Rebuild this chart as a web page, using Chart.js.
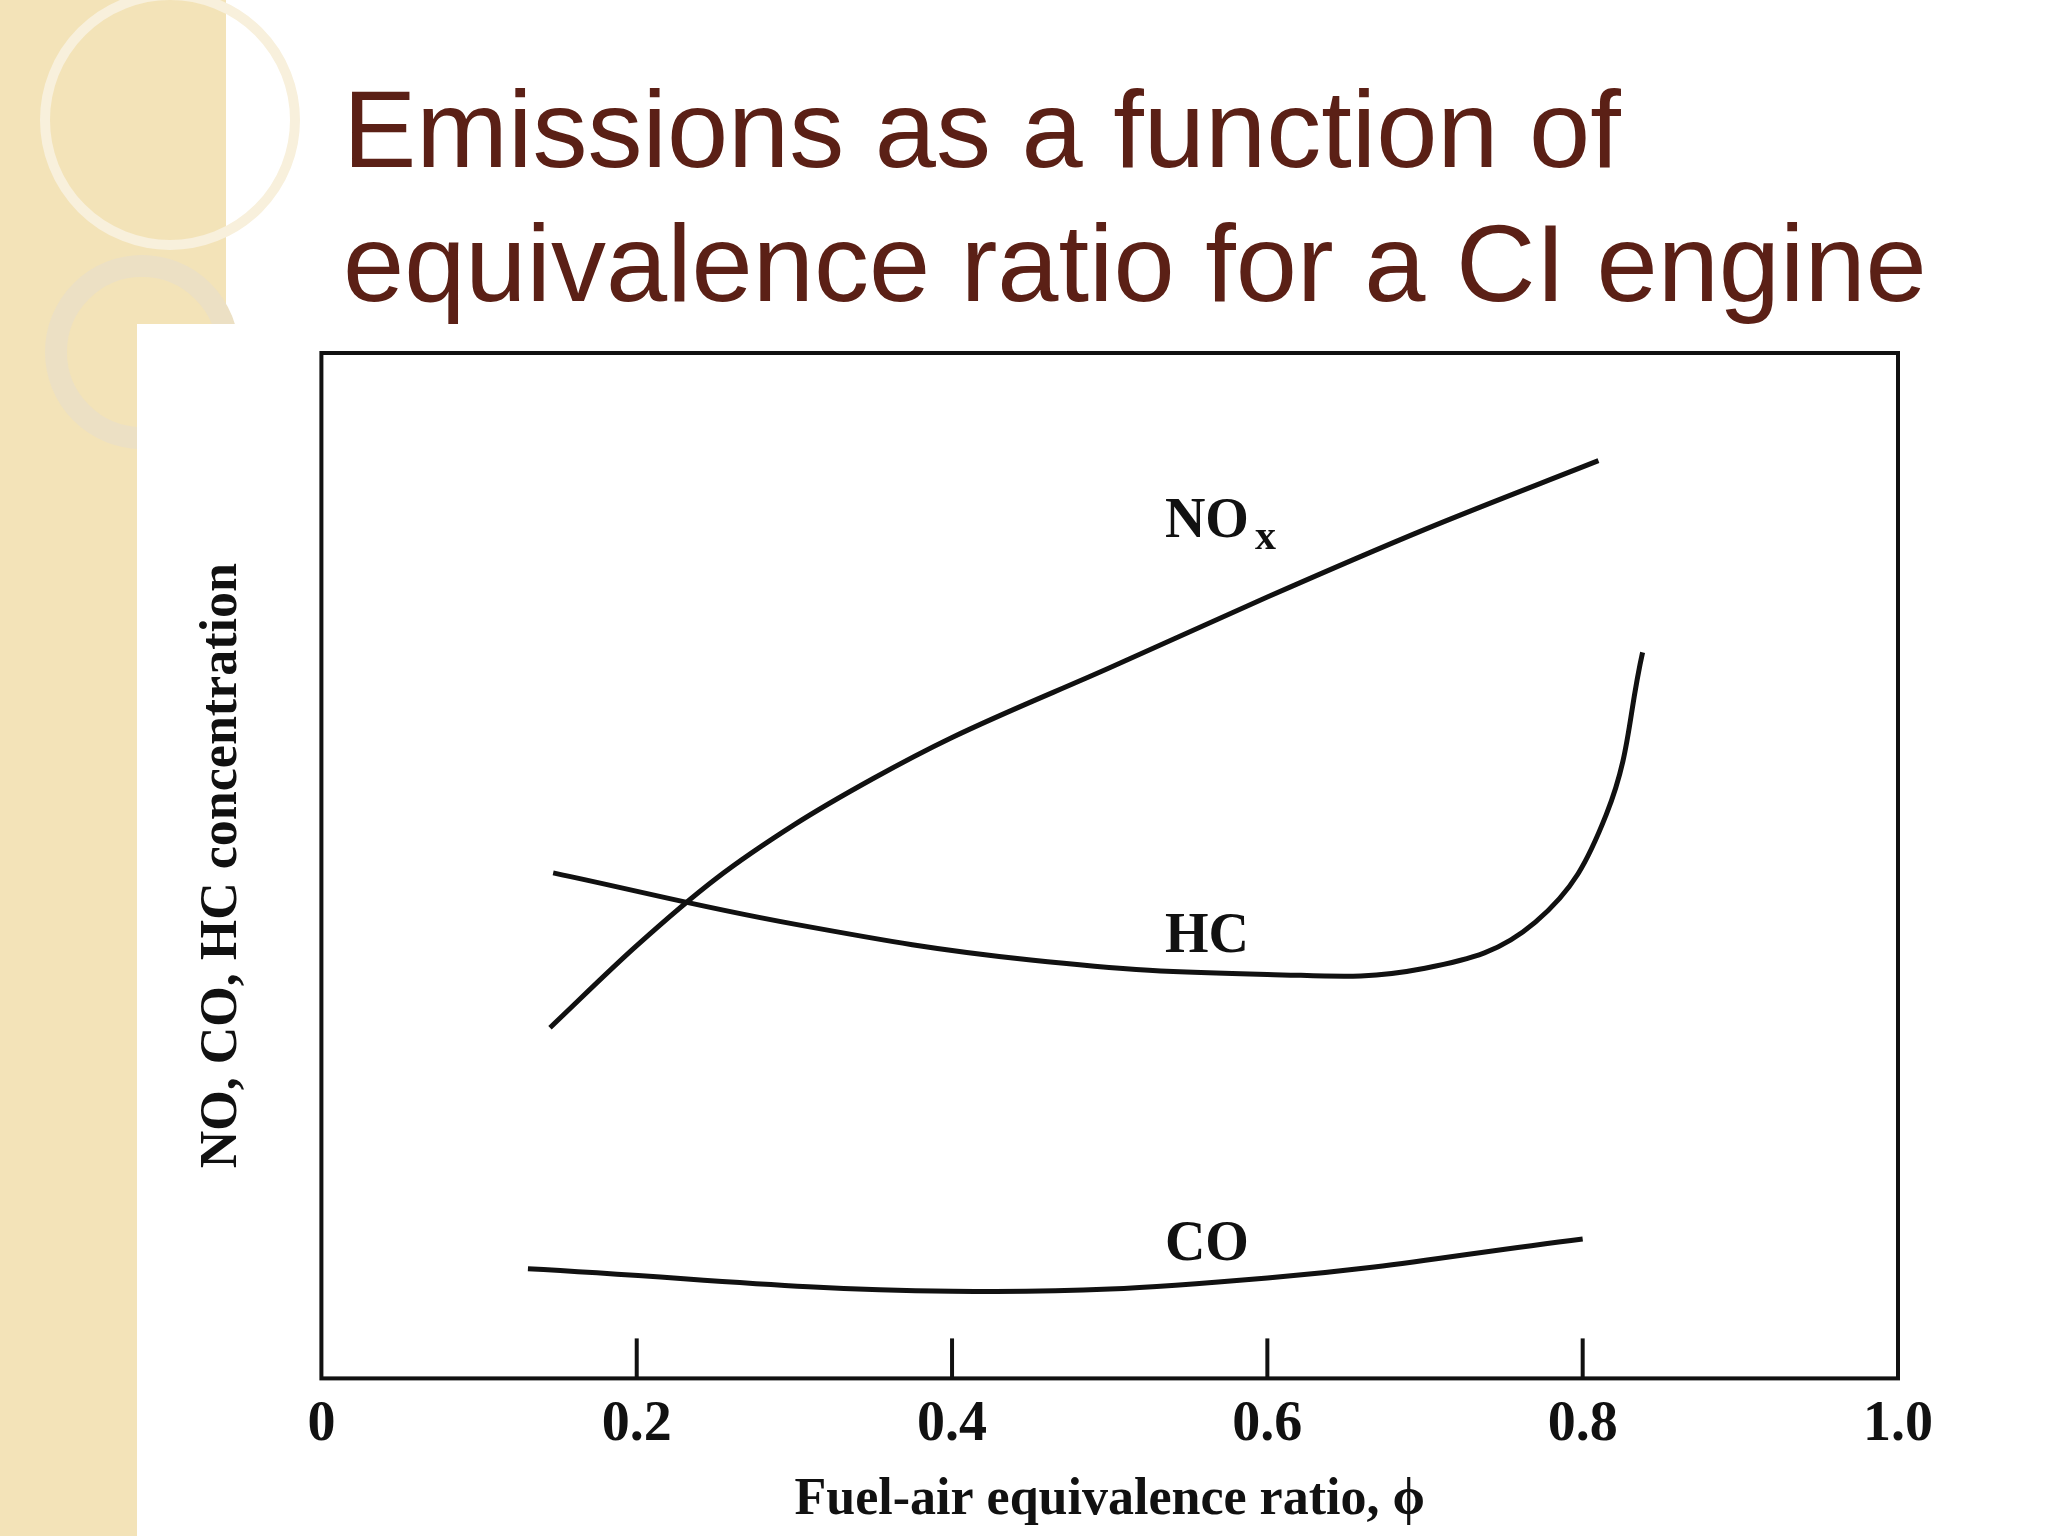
<!DOCTYPE html>
<html><head><meta charset="utf-8">
<script src="https://cdn.jsdelivr.net/npm/chart.js@4/dist/chart.umd.min.js"></script>
<style>
html,body{margin:0;width:2048px;height:1536px;overflow:hidden;background:#fff;font-family:"Liberation Sans",Arial,sans-serif}
#strip{position:absolute;left:0;top:0;width:226px;height:1536px;background:#f3e3b8}
#c1{position:absolute;left:40px;top:-10px;width:240px;height:240px;border-radius:50%;border:10px solid #f8f0dc}
#c2{position:absolute;left:45px;top:255px;width:150px;height:150px;border-radius:50%;border:22px solid #ece0c4}
#title{position:absolute;left:343px;top:62px;color:#5b2016;font-size:110px;line-height:134px}
#panel{position:absolute;left:137px;top:324px;width:1911px;height:1212px;background:#fff}
</style></head><body>
<div id="strip"></div><div id="c1"></div><div id="c2"></div>
<div id="title">Emissions as a function of<br>equivalence ratio for a CI engine</div>
<div id="panel"><canvas id="cv" width="1911" height="1212"></canvas></div>
<script>
const xTicks=[0,0.2,0.4,0.6,0.8,1.0];
const noxX=[0.145,0.2,0.25,0.3,0.35,0.4,0.5,0.6,0.7,0.81];
const noxY=[34.2,42.2,48.7,54.0,58.5,62.5,69.3,76.2,82.8,89.5];
const hcX=[0.147,0.3,0.45,0.6,0.7,0.77,0.815,0.838];
const hcY=[49.3,44.3,40.8,39.4,40.0,44.5,55,70.8];
const coX=[0.131,0.4,0.6,0.8];
const coY=[10.7,8.5,9.8,13.6];
const labels=[["NO",0.535,83.5,"x"],["HC",0.535,43,""],["CO",0.535,13,""]];
const pts=(xs,ys)=>xs.map((x,i)=>({x,y:ys[i]}));
const ds=(xs,ys,m)=>({data:pts(xs,ys),showLine:true,borderColor:'#111',borderWidth:5,pointRadius:0,tension:0.4,cubicInterpolationMode:m});
const serif='"Liberation Serif","DejaVu Serif",serif';
const deco={id:'deco',afterDraw(ch){
 const c=ch.ctx,a=ch.chartArea,xs=ch.scales.x,ys=ch.scales.y;
 c.save();c.strokeStyle='#111';c.lineWidth=4;c.strokeRect(a.left,a.top,a.right-a.left,a.bottom-a.top);
 xTicks.slice(1,-1).forEach(v=>{const px=xs.getPixelForValue(v);c.beginPath();c.moveTo(px,a.bottom);c.lineTo(px,a.bottom-40);c.stroke();});
 c.fillStyle='#111';c.textAlign='left';c.textBaseline='middle';
 labels.forEach(l=>{const px=xs.getPixelForValue(l[1]),py=ys.getPixelForValue(l[2]);c.font='bold 56px '+serif;c.fillText(l[0],px,py);
  if(l[3]){const w=c.measureText(l[0]).width;c.font='bold 42px '+serif;c.fillText(l[3],px+w+6,py+16);}});
 c.restore();}};
new Chart(document.getElementById('cv'),{type:'scatter',
 data:{datasets:[ds(noxX,noxY,'monotone'),ds(hcX,hcY,'default'),ds(coX,coY,'default')]},
 options:{responsive:false,animation:false,layout:{padding:{top:29,right:150,left:50,bottom:0}},
 plugins:{legend:{display:false},tooltip:{enabled:false}},
 scales:{x:{type:'linear',min:0,max:1,afterBuildTicks(s){s.ticks=xTicks.map(v=>({value:v}));},
   grid:{display:false},border:{display:false},
   ticks:{color:'#111',font:{family:serif,size:56,weight:'bold'},padding:6,callback:v=>v===0?'0':(v===1?'1.0':v.toFixed(1))},
   title:{display:true,text:'Fuel-air equivalence ratio, ϕ',color:'#111',font:{family:serif,size:52,weight:'bold'},padding:{top:4}}},
  y:{min:0,max:100,grid:{display:false},border:{display:false},ticks:{display:false},
   title:{display:true,text:'NO, CO, HC concentration',color:'#111',font:{family:serif,size:52,weight:'bold'},padding:{bottom:60}}}}},
 plugins:[deco]});
</script></body></html>
